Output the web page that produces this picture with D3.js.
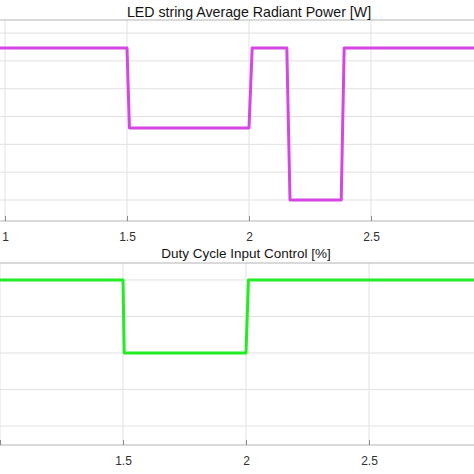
<!DOCTYPE html>
<html>
<head>
<meta charset="utf-8">
<script src="https://cdn.jsdelivr.net/npm/d3@7"></script>
<style>
  html, body { margin: 0; padding: 0; background: #fff; overflow: hidden; }
  svg { display: block; font-family: "Liberation Sans", Arial, sans-serif; }
</style>
</head>
<body>
<div id="chart"></div>
<script>
// time axis ticks (s)
const timeTicks = [1, 1.5, 2, 2.5, 3];

// top panel: LED string average radiant power
const powerTime  = [0.9, 1.5, 1.51, 2.0, 2.013, 2.155, 2.168, 2.378, 2.39, 3.2];
const powerValue = [6.46, 6.46, 3.59, 3.59, 6.46, 6.46, 1.0, 1.0, 6.46, 6.46];
const powerGrid  = [1, 2, 3, 4, 5, 6, 7];

// bottom panel: duty cycle input control
const dutyTime  = [0.9, 1.5, 1.505, 2.0, 2.01, 3.2];
const dutyValue = [100, 100, 60, 60, 100, 100];
const dutyGrid  = [20, 40, 60, 80, 100];

const W = 474, H = 474;

const svg = d3.select("#chart").append("svg")
    .attr("width", W)
    .attr("height", H);

function drawPanel(opts) {
    const g = svg.append("g");
    const x = d3.scaleLinear().domain([0.95, 3.05]).range(opts.xRange);
    const y = d3.scaleLinear().domain(opts.yDomain).range([opts.bottom, opts.top]);

    const clipId = "clip" + opts.id;
    svg.append("clipPath").attr("id", clipId)
        .append("rect")
        .attr("x", x.range()[0]).attr("y", opts.top)
        .attr("width", x.range()[1] - x.range()[0])
        .attr("height", opts.bottom - opts.top);

    // horizontal grid
    g.selectAll("line.hgrid").data(opts.grid).join("line")
        .attr("class", "hgrid")
        .attr("x1", x.range()[0]).attr("x2", x.range()[1])
        .attr("y1", d => y(d)).attr("y2", d => y(d))
        .attr("stroke", "#e1e1e1").attr("stroke-width", 1);

    // vertical grid
    g.selectAll("line.vgrid").data(timeTicks).join("line")
        .attr("class", "vgrid")
        .attr("x1", d => x(d)).attr("x2", d => x(d))
        .attr("y1", opts.top).attr("y2", opts.bottom)
        .attr("stroke", "#e1e1e1").attr("stroke-width", 1);

    // frame
    g.append("rect")
        .attr("x", x.range()[0]).attr("y", opts.top)
        .attr("width", x.range()[1] - x.range()[0])
        .attr("height", opts.bottom - opts.top)
        .attr("fill", "none").attr("stroke", "#b4b4b4").attr("stroke-width", 1);

    // x axis ticks (inward) and labels; labels that would sit outside the window are dropped
    const axis = d3.axisBottom(x).tickValues(timeTicks)
        .tickSizeInner(-5).tickSizeOuter(0).tickPadding(11)
        .tickFormat(d => (x(d) > 3 && x(d) < W - 6) ? d3.format("~g")(d) : "");
    const ax = g.append("g")
        .attr("transform", `translate(0,${opts.bottom})`)
        .call(axis);
    ax.select(".domain").remove();
    ax.selectAll(".tick line").attr("stroke", "#8a8a8a");
    ax.selectAll(".tick text")
        .attr("fill", "#303030")
        .attr("font-size", 12)
        .attr("font-family", "Liberation Sans, Arial, sans-serif");

    // title
    g.append("text")
        .attr("x", x(2)).attr("y", opts.titleY)
        .attr("text-anchor", "middle")
        .attr("font-size", opts.titleSize)
        .attr("fill", "#141414")
        .text(opts.title);

    const line = d3.line().x(d => x(d[0])).y(d => y(d[1]));
    g.append("path")
        .datum(opts.t.map((t, i) => [t, opts.v[i]]))
        .attr("clip-path", `url(#${clipId})`)
        .attr("d", line)
        .attr("fill", "none")
        .attr("stroke", opts.color)
        .attr("stroke-width", 3)
        .attr("stroke-linejoin", "round");
}

drawPanel({
    id: 1,
    xRange: [5 - 0.05 * 244, 5 + 2.05 * 244],
    top: 20, bottom: 221,
    yDomain: [0.245, 7.47],
    grid: powerGrid,
    t: powerTime, v: powerValue,
    color: "#d646e2",
    title: "LED string Average Radiant Power [W]",
    titleY: 17, titleSize: 14.2
});

drawPanel({
    id: 2,
    xRange: [0 - 0.05 * 246, 0 + 2.05 * 246],
    top: 263, bottom: 445,
    yDomain: [9.6, 109.3],
    grid: dutyGrid,
    t: dutyTime, v: dutyValue,
    color: "#22ec22",
    title: "Duty Cycle Input Control [%]",
    titleY: 258, titleSize: 13.5
});
</script>
</body>
</html>
